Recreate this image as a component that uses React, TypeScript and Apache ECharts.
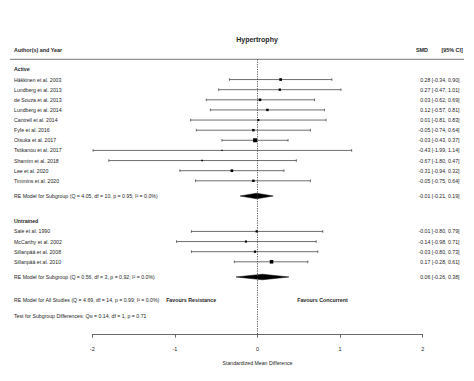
import React, { useEffect, useRef } from "react";
import * as echarts from "echarts";

// ---- data ----
const studies = [
  "Häkkinen et al. 2003",
  "Lundberg et al. 2013",
  "de Souza et al. 2013",
  "Lundberg et al. 2014",
  "Cantrell et al. 2014",
  "Fyfe et al. 2016",
  "Otsuka et al. 2017",
  "Tsitkanou et al. 2017",
  "Shamim et al. 2018",
  "Lee et al. 2020",
  "Timmins et al. 2020",
  "Sale et al. 1990",
  "McCarthy et al. 2002",
  "Sillanpää et al. 2008",
  "Sillanpää et al. 2010",
];
const smd = [0.28, 0.27, 0.03, 0.12, 0.01, -0.05, -0.03, -0.43, -0.67, -0.31, -0.05, -0.01, -0.14, -0.03, 0.17];
const ciLow = [-0.34, -0.47, -0.62, -0.57, -0.81, -0.74, -0.43, -1.99, -1.8, -0.94, -0.75, -0.8, -0.98, -0.8, -0.28];
const ciHigh = [0.9, 1.01, 0.69, 0.81, 0.83, 0.64, 0.37, 1.14, 0.47, 0.32, 0.64, 0.79, 0.71, 0.73, 0.61];
const studyRows = [1, 2, 3, 4, 5, 6, 7, 8, 9, 10, 11, 16, 17, 18, 19];

const groupNames = ["Active", "Untrained"];
const groupRows = [0, 15];

const subgroupLabels = [
  "RE Model for Subgroup (Q = 4.05, df = 10, p = 0.95; I² = 0.0%)",
  "RE Model for Subgroup (Q = 0.56, df = 3, p = 0.92; I² = 0.0%)",
];
const subgroupEst = [-0.01, 0.06];
const subgroupLow = [-0.21, -0.26];
const subgroupHigh = [0.19, 0.38];
const subgroupRows = [12.5, 20.5];

const overallLabel = "RE Model for All Studies (Q = 4.69, df = 14, p = 0.99; I² = 0.0%)";
const overallRow = 22.8;
const testLabel = "Test for Subgroup Differences: Q{sub|M} = 0.14, df = 1, p = 0.71";
const testRow = 24.35;

const favourLabels = ["Favours Resistance", "Favours Concurrent"];
const favourX = [-0.5, 0.48];

const xTicks = [-2, -1, 0, 1, 2];
const title = "Hypertrophy";
const xAxisTitle = "Standardized Mean Difference";

// ---- layout / style ----
const W = 474;
const H = 381;
const FONT = "'Liberation Sans', Arial, sans-serif";
const TXT = "#262626";
const FS = 5.2;
const LEFT_X = 14;
const RIGHT_X = 459.5;

const fmt = (v: number) => v.toFixed(2);

// point size from precision (metafor style, 0.5..1.5)
const prec = ciLow.map((lo, i) => 3.92 / (ciHigh[i] - lo));
const pMin = Math.min(...prec);
const pMax = Math.max(...prec);
const boxSize = prec.map((p) => 2.6 * (0.5 + (p - pMin) / (pMax - pMin)));

export default function App() {
  const ref = useRef<HTMLDivElement>(null);

  useEffect(() => {
    if (!ref.current) return;
    const chart = echarts.init(ref.current, null, { renderer: "svg" });

    const studyData = studies.map((_, i) => [smd[i], studyRows[i], ciLow[i], ciHigh[i], i]);
    const diamondData = subgroupEst.map((e, i) => [e, subgroupRows[i], subgroupLow[i], subgroupHigh[i], i]);
    const groupData = groupNames.map((_, i) => [0, groupRows[i], i]);

    const txt = (text: string, x: number, y: number, align: string, bold = false, size = FS, extra: any = {}) => ({
      type: "text",
      x,
      y,
      style: {
        text,
        x: 0,
        y: 0,
        align,
        verticalAlign: "middle",
        fill: TXT,
        fontSize: size,
        fontFamily: FONT,
        fontWeight: bold ? "bold" : "normal",
        ...extra,
      },
    });

    const option: any = {
      animation: false,
      backgroundColor: "#ffffff",
      grid: { left: 92.3, right: W - 422.7, top: 59.3, height: 275.4, containLabel: false },
      xAxis: {
        type: "value",
        min: xTicks[0],
        max: xTicks[xTicks.length - 1],
        interval: 1,
        splitLine: { show: false },
        axisLine: { show: true, onZero: false, lineStyle: { color: "#444", width: 0.8 } },
        axisTick: { show: true, length: 3, lineStyle: { color: "#444", width: 0.8 } },
        axisLabel: { fontSize: 5.5, color: TXT, fontFamily: FONT, margin: 11 },
        name: xAxisTitle,
        nameLocation: "middle",
        nameGap: 25.5,
        nameTextStyle: { fontSize: 5.2, color: TXT, fontFamily: FONT },
      },
      yAxis: { type: "value", min: -1, max: 26.2, inverse: true, show: false },
      graphic: [
        txt(title, 257, 39.5, "center", true, 7),
        txt("Author(s) and Year", LEFT_X, 50, "left", true, 5.4),
        txt("SMD", 416, 50, "left", true, 5.4),
        txt("[95% CI]", 462.7, 50, "right", true, 5.4),
        { type: "line", shape: { x1: 10, y1: 59.3, x2: 464, y2: 59.3 }, style: { stroke: "#555", lineWidth: 0.8 } },
      ],
      series: [
        {
          type: "line",
          data: [
            [0, -1],
            [0, 26.2],
          ],
          symbol: "none",
          silent: true,
          lineStyle: { color: "#333", width: 0.8, type: [1.2, 1.2] },
        },
        {
          type: "custom",
          clip: false,
          data: studyData,
          renderItem: (_p: any, api: any) => {
            const i = api.value(4);
            const row = api.value(1);
            const pLo = api.coord([api.value(2), row]);
            const pHi = api.coord([api.value(3), row]);
            const pE = api.coord([api.value(0), row]);
            const y = pE[1];
            const s = boxSize[i];
            const ls = { stroke: "#4a4a4a", lineWidth: 0.8 };
            return {
              type: "group",
              children: [
                { type: "line", shape: { x1: pLo[0], y1: y, x2: pHi[0], y2: y }, style: ls },
                { type: "line", shape: { x1: pLo[0], y1: y - 1.3, x2: pLo[0], y2: y + 1.3 }, style: ls },
                { type: "line", shape: { x1: pHi[0], y1: y - 1.3, x2: pHi[0], y2: y + 1.3 }, style: ls },
                { type: "rect", shape: { x: pE[0] - s / 2, y: y - s / 2, width: s, height: s }, style: { fill: "#000" } },
                txt(studies[i], LEFT_X, y, "left"),
                txt(`${fmt(smd[i])} [${fmt(ciLow[i])}, ${fmt(ciHigh[i])}]`, RIGHT_X, y, "right"),
              ],
            };
          },
        },
        {
          type: "custom",
          clip: false,
          data: diamondData,
          renderItem: (_p: any, api: any) => {
            const i = api.value(4);
            const row = api.value(1);
            const pLo = api.coord([api.value(2), row]);
            const pHi = api.coord([api.value(3), row]);
            const pE = api.coord([api.value(0), row]);
            const y = pE[1];
            const h = 2.8;
            return {
              type: "group",
              children: [
                {
                  type: "polygon",
                  shape: { points: [[pLo[0], y], [pE[0], y - h], [pHi[0], y], [pE[0], y + h]] },
                  style: { fill: "#000", stroke: "#000", lineWidth: 0.5 },
                },
                txt(subgroupLabels[i], LEFT_X, y, "left"),
                txt(`${fmt(subgroupEst[i])} [${fmt(subgroupLow[i])}, ${fmt(subgroupHigh[i])}]`, RIGHT_X, y, "right"),
              ],
            };
          },
        },
        {
          type: "custom",
          clip: false,
          data: groupData,
          renderItem: (_p: any, api: any) => {
            const i = api.value(2);
            const y = api.coord([0, api.value(1)])[1];
            return txt(groupNames[i], LEFT_X, y, "left", true);
          },
        },
        {
          type: "custom",
          clip: false,
          data: [[0, overallRow]],
          renderItem: (_p: any, api: any) => {
            const y = api.coord([0, api.value(1)])[1];
            return txt(overallLabel, LEFT_X, y, "left");
          },
        },
        {
          type: "custom",
          clip: false,
          data: favourX.map((x, i) => [x, overallRow, i]),
          renderItem: (_p: any, api: any) => {
            const i = api.value(2);
            const p = api.coord([api.value(0), api.value(1)]);
            return txt(favourLabels[i], p[0], p[1], i === 0 ? "right" : "left", true, 5.3);
          },
        },
        {
          type: "custom",
          clip: false,
          data: [[0, testRow]],
          renderItem: (_p: any, api: any) => {
            const y = api.coord([0, api.value(1)])[1];
            return txt(testLabel, LEFT_X, y, "left", false, FS, {
              rich: { sub: { fontSize: 3.8, verticalAlign: "bottom", padding: [3, 0, 0, 0], fill: TXT, fontFamily: FONT } },
            });
          },
        },
      ],
    };

    chart.setOption(option);
    return () => chart.dispose();
  }, []);

  return (
    <div
      ref={ref}
      style={{ position: "fixed", left: 0, top: 0, width: W, height: H, background: "#fff" }}
    />
  );
}
